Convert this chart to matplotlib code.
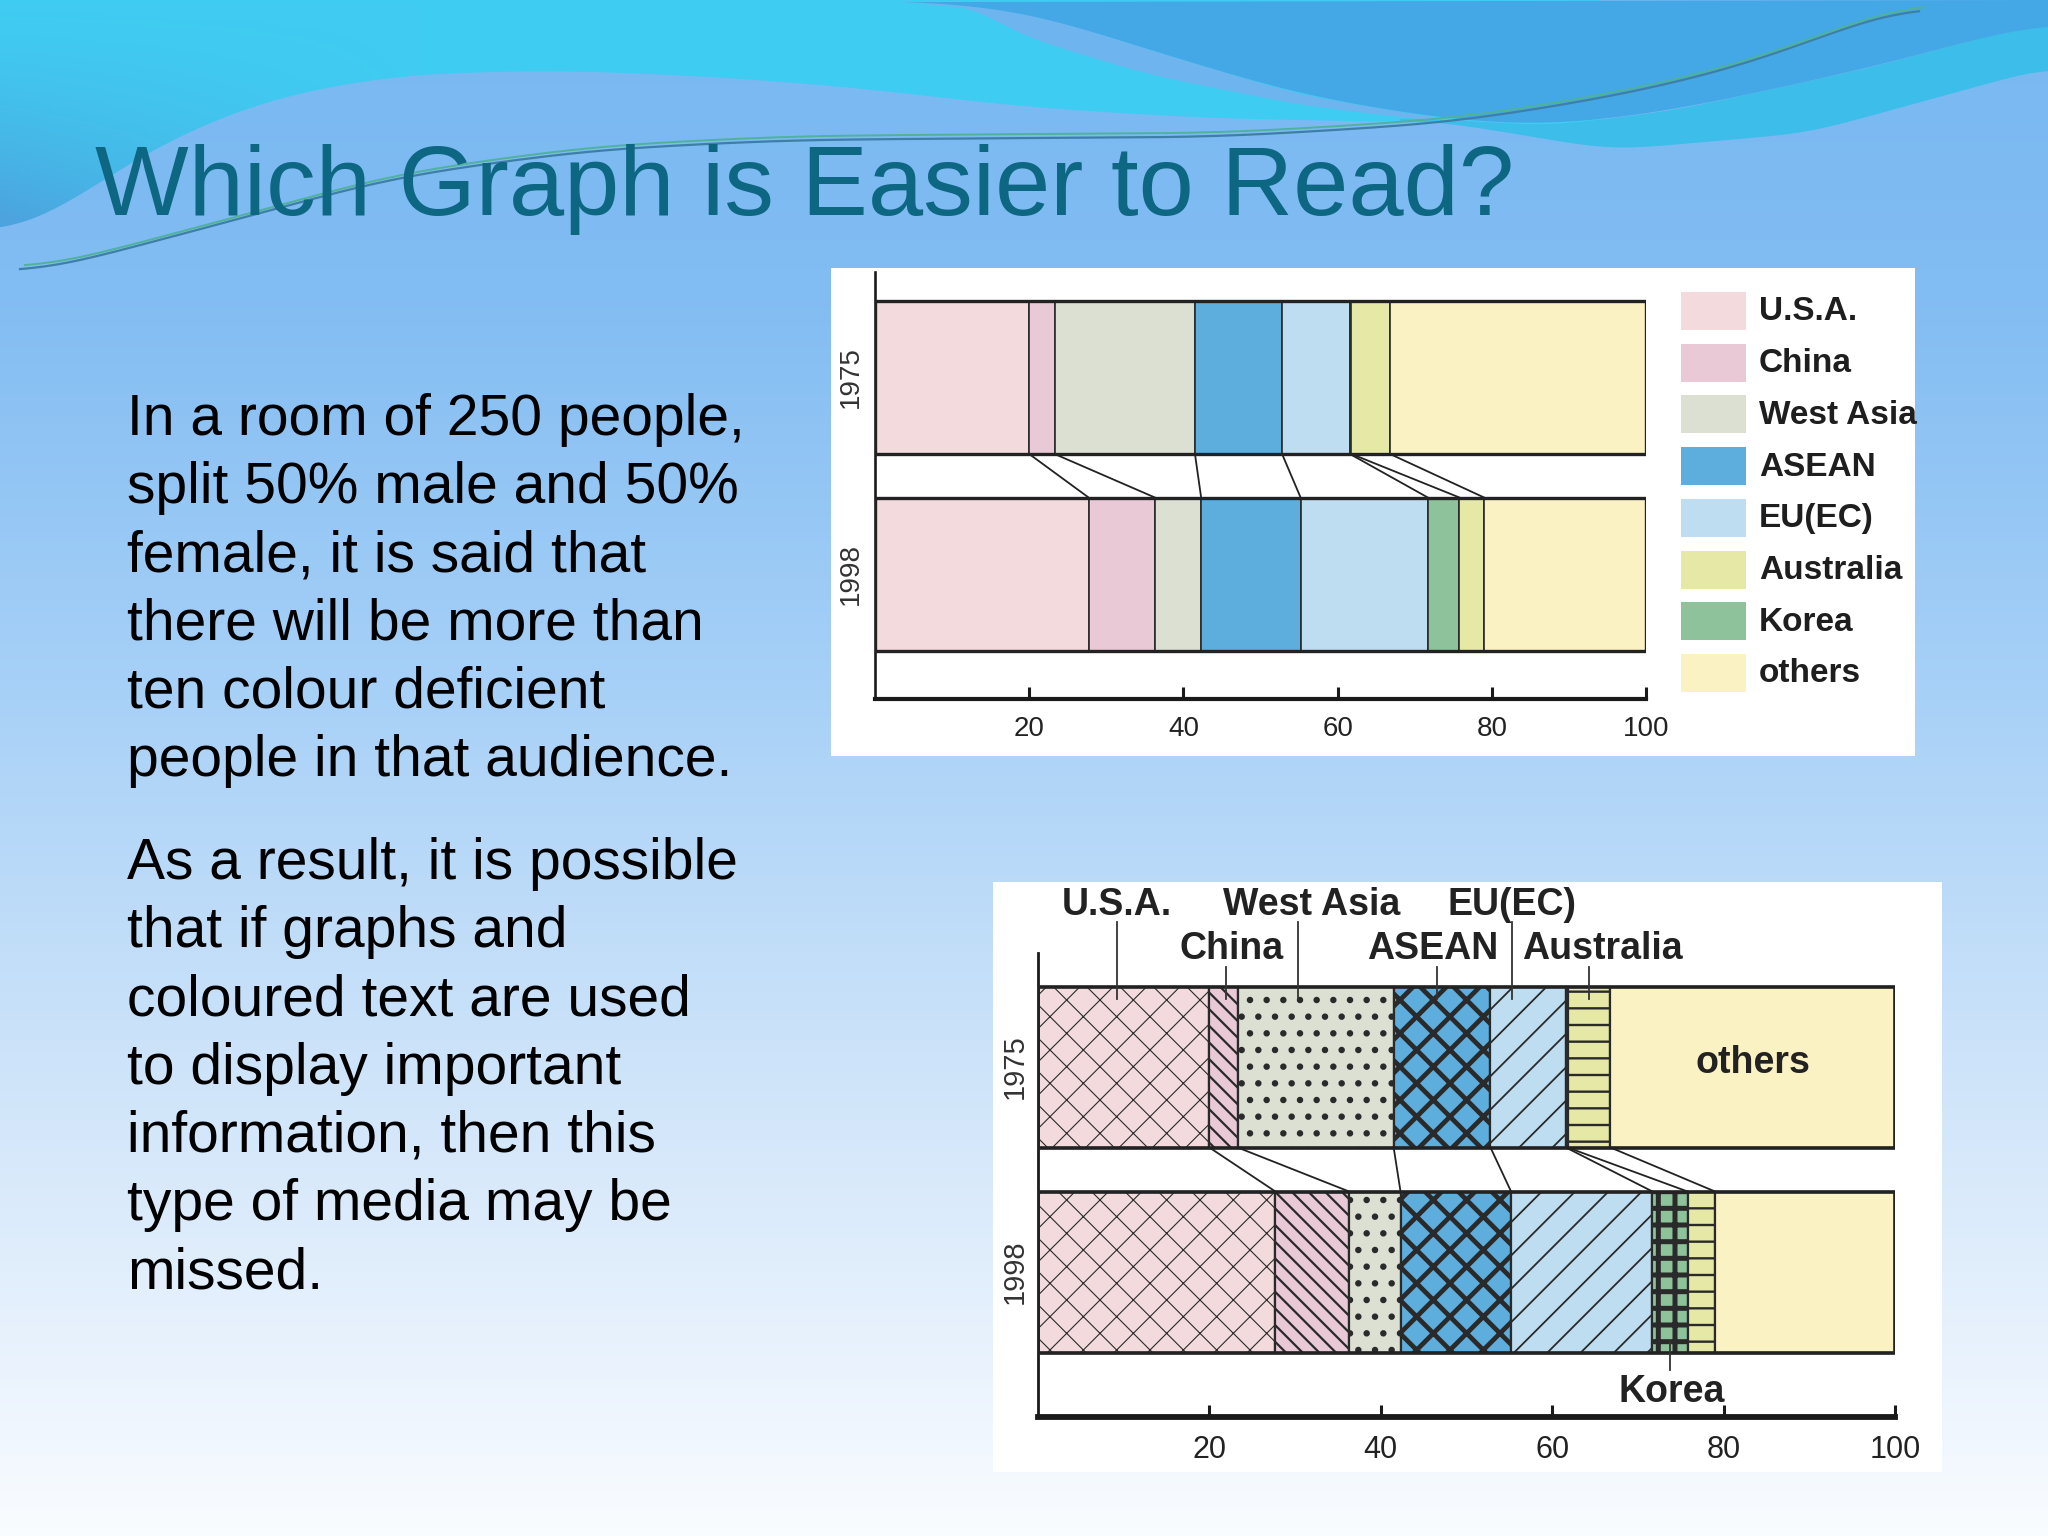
import matplotlib
matplotlib.use('Agg')
import matplotlib.pyplot as plt
import numpy as np
from matplotlib.patches import Rectangle, Polygon

# ---------------- data ----------------
categories = ['U.S.A.', 'China', 'West Asia', 'ASEAN', 'EU(EC)', 'Korea', 'Australia', 'others']
years = ['1975', '1998']
share_1975 = [20.0, 3.3, 18.2, 11.3, 8.8, 0.2, 5.0, 33.2]
share_1998 = [27.7, 8.6, 6.0, 12.9, 16.5, 4.1, 3.2, 21.0]
legend_order = ['U.S.A.', 'China', 'West Asia', 'ASEAN', 'EU(EC)', 'Australia', 'Korea', 'others']
x_ticks = [20, 40, 60, 80, 100]

title = 'Which Graph is Easier to Read?'
para1 = ['In a room of 250 people,', 'split 50% male and 50%', 'female, it is said that',
         'there will be more than', 'ten colour deficient', 'people in that audience.']
para2 = ['As a result, it is possible', 'that if graphs and', 'coloured text are used',
         'to display important', 'information, then this', 'type of media may be', 'missed.']

# ---------------- styles ----------------
colors = {'U.S.A.': '#F2DADD', 'China': '#E9C9D6', 'West Asia': '#DCE0D3', 'ASEAN': '#5EAEDD',
          'EU(EC)': '#BEDDF1', 'Australia': '#E6E9A6', 'Korea': '#8DC29B', 'others': '#FBF2C3'}
hatches = {'U.S.A.': 'x', 'China': '\\\\', 'West Asia': '.', 'ASEAN': 'x',
           'EU(EC)': '/', 'Australia': '-', 'Korea': '+', 'others': ''}
hatch_lw = {'U.S.A.': 0.8, 'China': 1.6, 'West Asia': 2.2, 'ASEAN': 3.4,
            'EU(EC)': 1.3, 'Australia': 1.7, 'Korea': 3.6, 'others': 1.0}
SANS = ['Liberation Sans', 'DejaVu Sans']

W, H = 2048, 1536
fig = plt.figure(figsize=(W / 100, H / 100), dpi=100)

# ---------------- background ----------------
bg = fig.add_axes([0, 0, 1, 1])
bg.set_xlim(0, W)
bg.set_ylim(H, 0)
bg.axis('off')

stops_y = [0, 300, 700, 1100, 1400, 1536]
stops_c = [(0.47, 0.72, 0.95), (0.51, 0.74, 0.95), (0.66, 0.82, 0.97),
           (0.82, 0.90, 0.98), (0.93, 0.96, 0.995), (0.98, 0.99, 1.0)]
yy = np.arange(H)
grad = np.stack([np.interp(yy, stops_y, [c[k] for c in stops_c]) for k in range(3)], axis=-1)
bg.imshow(grad[:, None, :], extent=[0, W, H, 0], aspect='auto', zorder=0)


def smooth(px, py, n=300, k=12):
    xs = np.linspace(px[0], px[-1], n)
    ys = np.interp(xs, px, py)
    for _ in range(3):
        ys = np.convolve(np.pad(ys, k, mode='edge'), np.ones(2 * k + 1) / (2 * k + 1), mode='valid')
    return xs, ys


# cyan upper-left region above the bump, shaded darker toward the left edge
bx, by = smooth([0, 80, 131, 261, 392, 555, 718, 849, 1024, 1200, 1449, 1600],
                [240, 200, 157, 100, 75, 70, 77, 87, 107, 118, 123, 126], k=8)
cyan_poly = Polygon(np.vstack([np.column_stack([bx, by]), [[1600, 0], [0, 0]]]), closed=True,
                    fc='none', ec='none', zorder=1)
bg.add_patch(cyan_poly)
gx, gy = np.meshgrid(np.linspace(0, 1600, 400), np.linspace(0, 240, 120))
f = np.clip((gy / 240.0) ** 1.5 * np.clip(1 - gx / 420.0, 0, 1) * 1.15, 0, 1)
top_c = np.array([0.25, 0.80, 0.95])
dark_c = np.array([0.30, 0.64, 0.87])
img = top_c[None, None, :] * (1 - f[..., None]) + dark_c[None, None, :] * f[..., None]
im = bg.imshow(img, extent=[0, 1600, 240, 0], aspect='auto', zorder=1)
im.set_clip_path(cyan_poly)

# light strip between cyan and dark blue
ux, uy = smooth([900, 1024, 1150, 1300, 1449, 1520], [0, 10, 50, 95, 120, 124])
lx, ly = smooth([960, 1024, 1150, 1300, 1449, 1520], [0, 37, 75, 105, 123, 125])
bg.add_patch(Polygon(np.vstack([np.column_stack([ux, uy]), np.column_stack([lx, ly])[::-1]]),
                     closed=True, fc='#6EB4EE', ec='none', zorder=2))
# cyan band on the right
cux, cuy = smooth([1400, 1449, 1550, 1677, 1873, 2048], [118, 120, 126, 110, 67, 20])
clx, cly = smooth([1400, 1449, 1612, 1808, 2048], [120, 123, 150, 133, 67])
bg.add_patch(Polygon(np.vstack([np.column_stack([cux, cuy]), [[2048, 20]],
                                np.column_stack([clx, cly])[::-1]]),
                     closed=True, fc='#3CBDEA', ec='none', zorder=2))
# dark blue top-right shape
dx, dy = smooth([900, 1024, 1150, 1300, 1449, 1550, 1677, 1873, 2048],
                [0, 10, 50, 95, 120, 126, 110, 67, 20])
bg.add_patch(Polygon(np.vstack([np.column_stack([dx, dy]), [[W, 0]]]), closed=True,
                     fc='#44A8E6', ec='none', zorder=3))
# thin wavy strands
wx, wy = smooth([20, 261, 392, 588, 784, 1024, 1220, 1449, 1612, 1742, 1919],
                [277, 213, 177, 150, 140, 138, 137, 123, 97, 67, 0], k=8)
bg.plot(wx, wy, color='#3E7FA8', lw=1.6, zorder=4)
bg.plot(wx + 5, wy - 4, color='#4FB29A', lw=1.4, zorder=4)

# ---------------- text ----------------
bg.text(95, 215, title, fontsize=71.5, color='#0D6682', family=SANS, va='baseline', ha='left', zorder=5)
for i, line in enumerate(para1):
    bg.text(127, 435 + i * 68.2, line, fontsize=41, color='black', family=SANS, va='baseline', zorder=5)
for i, line in enumerate(para2):
    bg.text(127, 879 + i * 68.2, line, fontsize=41, color='black', family=SANS, va='baseline', zorder=5)

# white panels
bg.add_patch(Rectangle((831, 268), 1084, 488, fc='white', ec='none', zorder=5))
bg.add_patch(Rectangle((993, 882), 949, 590, fc='white', ec='none', zorder=5))

# ---------------- helpers ----------------
cum1975 = np.concatenate([[0], np.cumsum(share_1975)])
cum1998 = np.concatenate([[0], np.cumsum(share_1998)])
ypos = [1, 0]  # 1975 on top, 1998 below


def chart_axes(x0, x1, ybot, ytop, c_top, c_bot, bar_px):
    s = c_bot - c_top
    ax = fig.add_axes([x0 / W, (H - ybot) / H, (x1 - x0) / W, (ybot - ytop) / H])
    ax.set_xlim(0, 100)
    ax.set_ylim((c_bot - ybot) / s, (c_bot - ytop) / s)
    ax.patch.set_alpha(0)
    for sp in ['top', 'right']:
        ax.spines[sp].set_visible(False)
    return ax, bar_px / s


def draw_bars(ax, h, hatched, sep_lw, out_lw):
    for i, cat in enumerate(categories):
        kw = dict(height=h, color=colors[cat], edgecolor='#2a2a2a', linewidth=sep_lw, zorder=2)
        if hatched and hatches[cat]:
            with plt.rc_context({'hatch.linewidth': hatch_lw[cat]}):
                bars = ax.barh(ypos, [share_1975[i], share_1998[i]],
                               left=[cum1975[i], cum1998[i]], hatch=hatches[cat], **kw)
            for b in bars:
                if hasattr(b, 'set_hatch_linewidth'):
                    b.set_hatch_linewidth(hatch_lw[cat])
        else:
            ax.barh(ypos, [share_1975[i], share_1998[i]], left=[cum1975[i], cum1998[i]], **kw)
    ax.barh(ypos, [cum1975[-1], cum1998[-1]], height=h, fill=False, edgecolor='#222222',
            linewidth=out_lw, zorder=3)
    # connectors between the bars
    for k in range(1, len(categories)):
        ax.plot([cum1975[k], cum1998[k]], [1 - h / 2, h / 2], color='#222222', lw=1.3, zorder=3)


def style_axis(ax, xlw, ylw, tick_len, tick_pad, tick_fs, year_fs, year_pad):
    ax.spines['bottom'].set_linewidth(xlw)
    ax.spines['left'].set_linewidth(ylw)
    ax.spines['bottom'].set_color('#1a1a1a')
    ax.spines['left'].set_color('#1a1a1a')
    ax.set_xticks(x_ticks)
    ax.set_xticklabels([str(t) for t in x_ticks], fontsize=tick_fs, family=SANS, color='#222222')
    ax.tick_params(axis='x', direction='in', length=tick_len, width=2.2, pad=tick_pad, color='#1a1a1a')
    ax.set_yticks(ypos)
    ax.set_yticklabels(years, rotation=90, va='center', ha='right', fontsize=year_fs,
                       family=SANS, color='#333333')
    ax.tick_params(axis='y', length=0, pad=year_pad)


# ---------------- top chart (colour only) ----------------
ax1, h1 = chart_axes(875, 1646, 699, 272, 377.5, 574, 153)
draw_bars(ax1, h1, hatched=False, sep_lw=1.2, out_lw=2.4)
style_axis(ax1, xlw=3.0, ylw=1.9, tick_len=8.5, tick_pad=12, tick_fs=20, year_fs=20, year_pad=8)

# legend for top chart
for i, cat in enumerate(legend_order):
    yc = 311 + i * 51.7
    bg.add_patch(Rectangle((1681, yc - 19), 65, 38, fc=colors[cat], ec='none', zorder=6))
    bg.text(1759, yc + 1, cat, fontsize=24, fontweight='bold', family=SANS, color='#1e1e1e',
            va='center', ha='left', zorder=6)

# ---------------- bottom chart (colour + hatching) ----------------
ax2, h2 = chart_axes(1038, 1895, 1417, 953, 1067, 1272, 161)
draw_bars(ax2, h2, hatched=True, sep_lw=1.6, out_lw=2.6)
style_axis(ax2, xlw=4.2, ylw=2.0, tick_len=8.5, tick_pad=13, tick_fs=22, year_fs=21, year_pad=7)

# call-out labels (x in data units, y in axis row units)
label_layout = {'U.S.A.': (9.2, 1.79, 9.2), 'West Asia': (31.9, 1.79, 30.3), 'EU(EC)': (55.3, 1.79, 55.3),
                'China': (22.6, 1.575, 21.9), 'ASEAN': (46.1, 1.575, 46.6), 'Australia': (65.8, 1.575, 64.3)}
for cat, (lx_, ly_, lead_x) in label_layout.items():
    ax2.text(lx_, ly_, cat, fontsize=27, fontweight='bold', family=SANS, color='#222222',
             ha='center', va='center', clip_on=False, zorder=6)
    top = ly_ - 0.085
    ax2.plot([lead_x, lead_x], [top, 1.33], color='#333333', lw=1.3, clip_on=False, zorder=6)
# Korea below 1998 bar
ax2.plot([73.8, 73.8], [-h2 / 2 + 0.05, -0.48], color='#333333', lw=1.3, clip_on=False, zorder=6)
ax2.text(73.9, -0.585, 'Korea', fontsize=27, fontweight='bold', family=SANS, color='#222222',
         ha='center', va='center', zorder=6)
ax2.text(83.4, 1.02, 'others', fontsize=27, fontweight='bold', family=SANS, color='#222222',
         ha='center', va='center', zorder=6)

fig.savefig('out.png', dpi=100)
